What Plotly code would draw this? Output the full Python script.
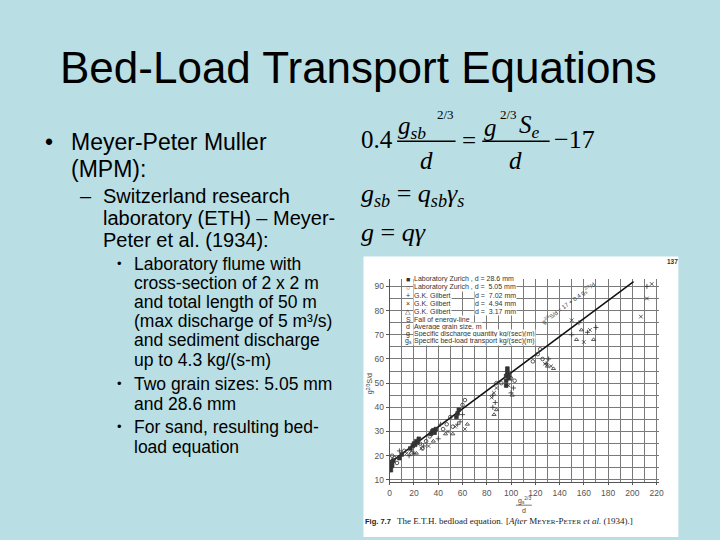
import plotly.graph_objects as go

# ---------------- data ----------------
sq_x = [1, 1, 2, 2, 3, 8, 10, 17, 19, 20, 21, 22, 23, 24, 34, 35, 36, 37, 38, 55, 56, 57, 96, 96, 96, 97, 97, 98, 98]
sq_y = [14, 15.5, 16, 17.5, 18, 19, 20.5, 23, 24, 25, 24.5, 26, 25.5, 27, 29, 30, 30.5, 29.5, 31, 36, 37.5, 39, 49, 51, 53, 54.5, 56, 52, 53.5]

ci_x = [2, 4, 6, 12, 18, 25, 27, 30, 33, 44, 47, 50, 52, 60, 62, 88, 92, 100, 103, 118, 122, 124, 126]
ci_y = [20, 19, 17, 22, 21, 25, 23, 26, 28, 31, 33, 36, 32, 41, 43, 50, 50, 52, 51, 59, 62, 64, 60]

pl_x = [8, 16, 20, 28, 40, 42, 56, 58, 60, 85, 85, 87, 100, 102, 129, 131, 150, 156, 163, 170, 212]
pl_y = [22, 20, 21, 24, 27, 33, 33, 34, 37, 45, 40, 42, 46, 48, 58, 60, 70, 75, 71, 73, 90]

xx_x = [14, 18, 26, 32, 48, 54, 62, 84, 86, 88, 98, 128, 133, 150, 160, 165, 207, 212, 216]
xx_y = [21, 22, 23, 24, 30, 32, 31, 44, 46, 48, 49, 58, 57, 76, 67, 72, 77.5, 85, 91]

tr_x = [22, 36, 46, 52, 64, 86, 88, 101, 130, 135, 158, 168, 154]
tr_y = [21, 26, 29, 29, 33, 37, 39, 45, 57, 56, 72, 68, 68]

fit_x = [0, 201]
fit_y = [17, 92]

x_ticks = [0, 20, 40, 60, 80, 100, 120, 140, 160, 180, 200, 220]
x_labels = ["0", "20", "40", "60", "80", "100", "120", "140", "160", "180", "200", "220"]
y_ticks = [10, 20, 30, 40, 50, 60, 70, 80, 90]
y_labels = ["10", "20", "30", "40", "50", "60", "70", "80", "90"]

legend_lines = [
    ("\u25A0", "Laboratory Zurich , d = 28.6 mm", ""),
    ("\u25CB", "Laboratory Zurich , d =  5.05 mm", ""),
    ("+", "G.K. Gilbert", "d =  7.02 mm"),
    ("\u00D7", "G.K. Gilbert", "d =  4.94 mm"),
    ("\u25B3", "G.K. Gilbert", "d =  3.17 mm"),
    ("S", "Fall of energy-line", ""),
    ("d", "Average grain size, m", ""),
    ("g", "Specific discharge quantity kg/(sec)(m)", ""),
    ("g<sub>s</sub>", "Specific bed-load transport kg/(sec)(m)", ""),
]

W, H = 720, 540
def px(x): return x / W
def py(y): return 1 - y / H

BG = "#B9DEE3"
SANS = "Liberation Sans, Arial, sans-serif"
SERIF = "Liberation Serif, Times New Roman, serif"
GRID = "#7a7a7a"

fig = go.Figure()
mk = dict(size=3.6, color="#333", line=dict(width=0.8, color="#333"))
fig.add_trace(go.Scatter(x=fit_x, y=fit_y, mode="lines", line=dict(color="#111", width=1.5), showlegend=False))
fig.add_trace(go.Scatter(x=sq_x, y=sq_y, mode="markers", marker=dict(symbol="square", **mk), showlegend=False))
fig.add_trace(go.Scatter(x=ci_x, y=ci_y, mode="markers", marker=dict(symbol="circle-open", **mk), showlegend=False))
fig.add_trace(go.Scatter(x=pl_x, y=pl_y, mode="markers", marker=dict(symbol="cross-thin-open", **mk), showlegend=False))
fig.add_trace(go.Scatter(x=xx_x, y=xx_y, mode="markers", marker=dict(symbol="x-thin-open", **mk), showlegend=False))
fig.add_trace(go.Scatter(x=tr_x, y=tr_y, mode="markers", marker=dict(symbol="triangle-up-open", **mk), showlegend=False))

x0p, x1p = 391.5, 663.5
y0p, y1p = 485, 280.7
fig.update_layout(
    width=W, height=H, margin=dict(l=0, r=0, t=0, b=0),
    paper_bgcolor=BG, plot_bgcolor="white",
    xaxis=dict(domain=[px(x0p), px(x1p)], range=[0, 222], tickmode="array", tickvals=x_ticks, ticktext=x_labels,
               showgrid=True, gridcolor=GRID, gridwidth=0.8, zeroline=False,
               minor=dict(dtick=10, tick0=0, showgrid=True, gridcolor=GRID, gridwidth=0.8, ticks=""),
               showline=True, linecolor="#555", linewidth=1, ticks="outside", ticklen=2, tickcolor="#555",
               tickfont=dict(family=SANS, size=8.5, color="#555")),
    yaxis=dict(domain=[py(y0p), py(y1p)], range=[9, 93], tickmode="array", tickvals=y_ticks, ticktext=y_labels,
               showgrid=True, gridcolor=GRID, gridwidth=0.8, zeroline=False,
               minor=dict(dtick=5, tick0=0, showgrid=True, gridcolor=GRID, gridwidth=0.8, ticks=""),
               showline=True, linecolor="#555", linewidth=1, ticks="outside", ticklen=3, tickcolor="#555",
               tickfont=dict(family=SANS, size=8.5, color="#555")),
)

shapes = []
shapes.append(dict(type="rect", xref="paper", yref="paper", x0=px(365), x1=px(683), y0=0, y1=py(258),
                   fillcolor="white", line=dict(width=0), layer="below"))
for (a, b) in [(399, 458), (485, 553)]:
    shapes.append(dict(type="line", xref="paper", yref="paper", x0=px(a), x1=px(b), y0=py(142), y1=py(142),
                       line=dict(color="black", width=1.6)))
shapes.append(dict(type="line", xref="paper", yref="paper", x0=px(519), x1=px(535), y0=py(508), y1=py(508),
                   line=dict(color="#555", width=0.8)))
fig.update_layout(shapes=shapes)

ann = []
def A(text, x, y, size, family=SANS, xanchor="left", color="black", **kw):
    ann.append(dict(text=text, x=px(x), y=py(y), xref="paper", yref="paper", showarrow=False,
                    xanchor=xanchor, yanchor="middle", borderpad=0,
                    font=dict(family=family, size=size, color=color), **kw))

# title
A("Bed-Load Transport Equations", 360, 68, 44, xanchor="center")

# bullets
A("\u2022", 47, 143, 23, xanchor="center")
A("Meyer-Peter Muller", 69, 143, 23)
A("(MPM):", 69, 170, 23)
A("\u2013", 85, 197, 20, xanchor="center")
for t, y in [("Switzerland research", 197), ("laboratory (ETH) \u2013 Meyer-", 219), ("Peter et al. (1934):", 241)]:
    A(t, 101, y, 20)
lvl3 = [("Laboratory flume with", 265, True), ("cross-section of 2 x 2 m", 285, False),
        ("and total length of 50 m", 304, False), ("(max discharge of 5 m\u00B3/s)", 323, False),
        ("and sediment discharge", 342, False), ("up to 4.3 kg/(s-m)", 362, False),
        ("Two grain sizes: 5.05 mm", 386, True), ("and 28.6 mm", 406, False),
        ("For sand, resulting bed-", 429, True), ("load equation", 449, False)]
for t, y, b in lvl3:
    if b:
        A("\u2022", 119, y, 13, xanchor="center")
    A(t, 132, y, 17.5)

# equations (serif)
A("0.4", 362, 140, 25, family=SERIF)
A("<i>g</i><sub><i>sb</i></sub>", 399, 128, 25, family=SERIF)
A("2/3", 438, 115, 13, family=SERIF)
A("<i>d</i>", 428.5, 161, 25, family=SERIF, xanchor="center")
A("=", 472, 141, 25, family=SERIF, xanchor="center")
A("<i>g</i>", 486, 128, 25, family=SERIF)
A("2/3", 502, 115, 13, family=SERIF)
A("<i>S</i><sub><i>e</i></sub>", 521, 127, 25, family=SERIF)
A("<i>d</i>", 519, 161, 25, family=SERIF, xanchor="center")
A("\u221217", 556, 140, 26, family=SERIF)
A("<i>g</i><sub><i>sb</i></sub> = <i>q</i><sub><i>sb</i></sub><i>\u03B3</i><sub><i>s</i></sub>", 362, 196, 26, family=SERIF)
A("<i>g</i> = <i>q\u03B3</i>", 362, 234, 26, family=SERIF)

# chart legend
ly = [281, 289, 297, 305.5, 313.5, 321.5, 328.5, 336, 343]
for (sym, t, d), y in zip(legend_lines, ly):
    A(sym, 410, y, 7, color="#333", xanchor="center")
    A(t, 415, y, 7, color="#333", bgcolor="white")
    if d:
        A(d, 477, y, 7, color="#333", bgcolor="white")

# equation along the line
A("g<sup>2/3</sup>S/d = 17 + 0.4 g<sub>s</sub><sup>2/3</sup>/d", 572, 305, 6, color="#333",
  xanchor="center", textangle=-37)
# axis labels
A("g<sup>2/3</sup>S/d", 372, 386, 7, color="#444", xanchor="center", textangle=-90)
A("g<sub>s</sub><sup>2/3</sup>", 528, 503, 7, color="#444", xanchor="center")
A("d", 527, 513, 7, color="#444", xanchor="center")
# page number and caption
A("<b>137</b>", 677, 263, 6.5, color="#333", xanchor="center")
A("<b>Fig. 7.7</b>", 366, 524, 7.5, color="#222")
A("The E.T.H. bedload equation.", 398, 524, 9, family=SERIF, color="#222")
A("[<i>After</i> M<span style='font-size:7px'>EYER</span>-P<span style='font-size:7px'>ETER</span> <i>et al.</i> (1934).]",
  508, 524, 9, family=SERIF, color="#222")

fig.update_layout(annotations=ann)
fig.write_html("out.html", config={"displayModeBar": False},
               post_script="document.body.style.margin='0px';")
